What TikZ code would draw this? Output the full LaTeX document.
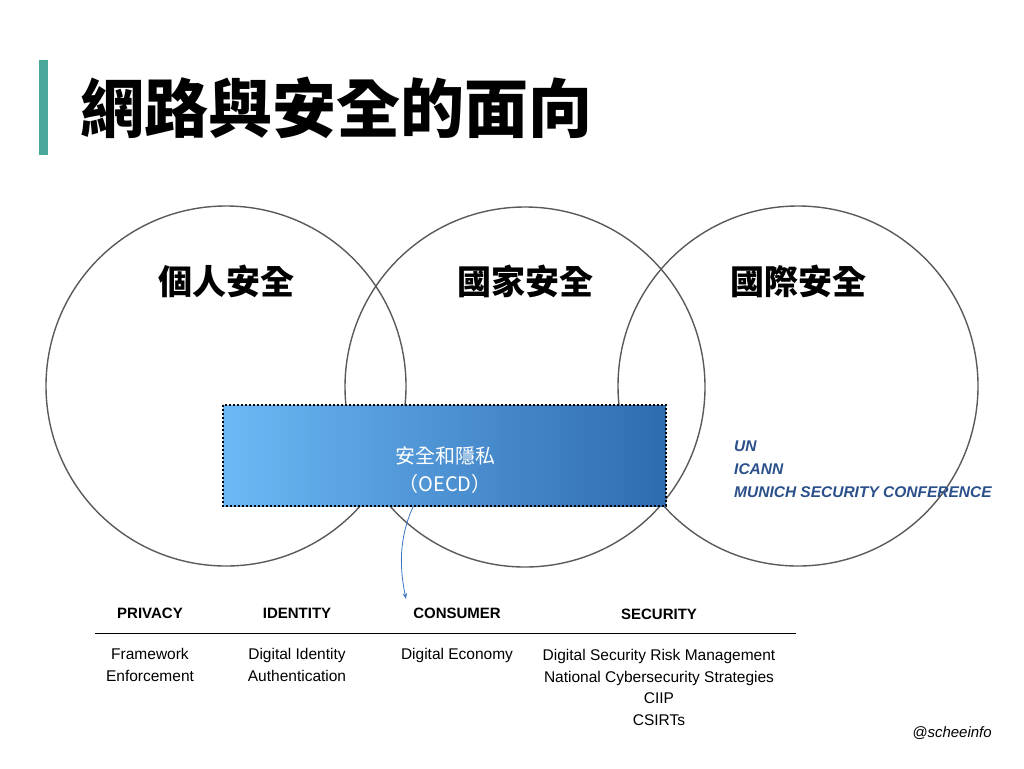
\documentclass[tikz,border=0pt]{standalone}
\usepackage{fontspec}
\setmainfont{Liberation Sans}
\newfontfamily\cjk{Noto Sans CJK TC}
\usetikzlibrary{arrows.meta,positioning}
\definecolor{barteal}{HTML}{4AA89A}
\definecolor{ringgray}{HTML}{5A5A5A}
\definecolor{boxleft}{HTML}{6CB8F5}
\definecolor{boxright}{HTML}{2E6CB0}
\definecolor{orgblue}{HTML}{2A4F8A}
\definecolor{arrowblue}{HTML}{3A78C0}
\begin{document}
\begin{tikzpicture}[x=1pt,y=-1pt,
  ring/.style={draw=ringgray,line width=1.4pt},
  ringlabel/.style={font=\cjk\bfseries\fontsize{34}{40}\selectfont},
  head/.style={font=\bfseries\fontsize{15}{18}\selectfont},
  item/.style={font=\fontsize{15.5}{21.5}\selectfont,align=center,anchor=north},
  org/.style={font=\bfseries\itshape\fontsize{15.5}{18}\selectfont,text=orgblue,anchor=west,inner sep=0pt}]
  \useasboundingbox (0,0) rectangle (1024,768);
  % title
  \fill[barteal] (39,60) rectangle (48,155);
  \node[anchor=west,inner sep=0pt,font=\cjk\bfseries\fontsize{64}{70}\selectfont] (title) at (80,108) {網路與安全的面向};
  % circles
  \draw[ring] (226,386) circle (180);
  \draw[ring] (525,387) circle (180);
  \draw[ring] (798,386) circle (180);
  \node[ringlabel] (personal) at (226,281) {個人安全};
  \node[ringlabel] (national) at (525,281) {國家安全};
  \node[ringlabel] (global) at (798,281) {國際安全};
  % OECD box
  \shade[left color=boxleft,right color=boxright] (223,405) rectangle (666,506);
  \draw[black,line width=2pt,dotted] (223,405) rectangle (666,506);
  \node[text=white,align=center,font=\cjk\fontsize{20}{28}\selectfont] (oecd) at (445,470) {安全和隱私\\（OECD）};
  \coordinate (arrowstart) at (413,507);
  \coordinate (arrowend) at (406,599);
  \draw[arrowblue,line width=0.8pt,-{Stealth[length=6pt]}] (arrowstart) .. controls (398,540) and (400,570) .. (arrowend);
  % organisations
  \node[org] (un) at (734,446) {UN};
  \node[org] (icann) at (734,469) {ICANN};
  \node[org] (msc) at (734,492) {MUNICH SECURITY CONFERENCE};
  % table
  \node[head] (privacy) at (150,613) {PRIVACY};
  \node[head] (identity) at (297,613) {IDENTITY};
  \node[head] (consumer) at (457,613) {CONSUMER};
  \node[head] (security) at (659,614) {SECURITY};
  \draw[black,line width=0.8pt] (95,633) -- (796,633);
  \node[item] (privitems) at (150,645) {Framework\\Enforcement};
  \node[item] (iditems) at (297,645) {Digital Identity\\Authentication};
  \node[item] (consitems) at (457,645) {Digital Economy};
  \node[item] (secitems) at (659,646) {Digital Security Risk Management\\National Cybersecurity Strategies\\CIIP\\CSIRTs};
  \node[font=\itshape\fontsize{15}{18}\selectfont] (credit) at (952,733) {@scheeinfo};
\end{tikzpicture}
\end{document}
